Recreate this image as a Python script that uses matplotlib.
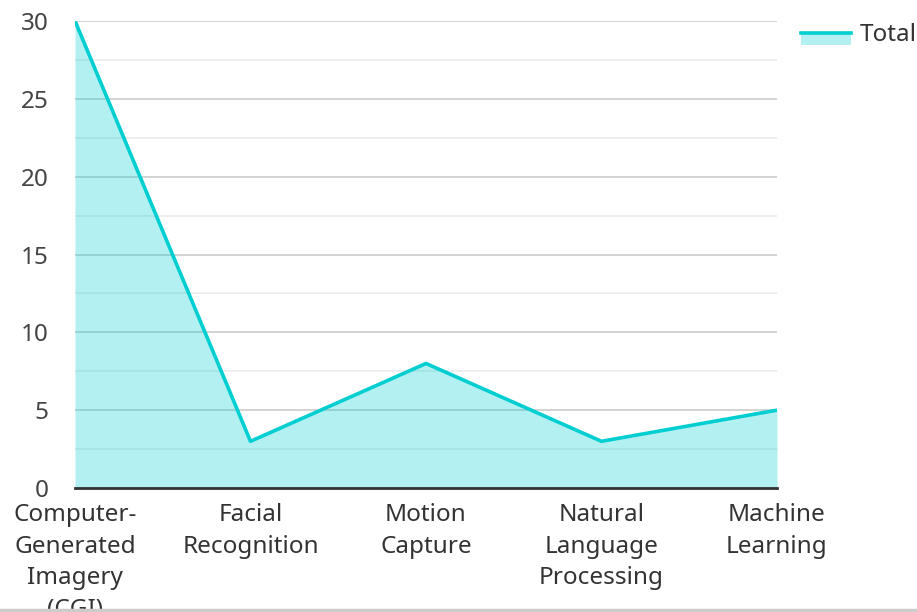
import matplotlib.pyplot as plt
from matplotlib.lines import Line2D
from matplotlib.patches import Rectangle
from matplotlib.legend_handler import HandlerBase

categories = ["Computer-\nGenerated\nImagery\n(CGI)", "Facial\nRecognition", "Motion\nCapture",
              "Natural\nLanguage\nProcessing", "Machine\nLearning"]
totals = [30, 3, 8, 3, 5]
yticks = [0, 5, 10, 15, 20, 25, 30]
minor_ticks = [2.5, 7.5, 12.5, 17.5, 22.5, 27.5]

LINE = "#00CED1"
FS = 17.5
plt.rcParams['font.family'] = ['Noto Sans', 'DejaVu Sans']


class AreaHandler(HandlerBase):
    # line on top, light fill strip under it
    def create_artists(self, legend, orig, xd, yd, width, height, fontsize, trans):
        mid = yd + height * 0.5
        rect = Rectangle((xd, mid - 8.6), width, 8.6,
                         facecolor=LINE, alpha=0.3, edgecolor="none", transform=trans)
        ln = Line2D([xd, xd + width], [mid, mid], color=LINE, lw=2.6, transform=trans)
        return [rect, ln]


fig = plt.figure(figsize=(9.17, 6.12), dpi=100)
ax = fig.add_axes([0.0818, 0.2026, 0.7655, 0.7631])
x = list(range(len(categories)))

ax.set_yticks(yticks)
ax.set_yticks(minor_ticks, minor=True)
ax.grid(True, which="major", axis="y", color="#cccccc", lw=1.2, zorder=0)
ax.grid(True, which="minor", axis="y", color="#ebebeb", lw=1.2, zorder=0)
ax.set_axisbelow(True)

ax.fill_between(x, totals, 0, color=LINE, alpha=0.3, lw=0, zorder=1)
ax.plot(x, totals, color=LINE, lw=2.6, zorder=3, solid_capstyle="butt")

ax.set_xlim(0, len(categories) - 1)
ax.set_ylim(0, 30)
ax.set_xticks(x)
ax.set_xticklabels(categories, linespacing=1.42, fontsize=FS, color="#333333")
for t in ax.get_yticklabels():
    t.set_fontsize(FS)
    t.set_color("#444444")
ax.tick_params(axis="y", which="both", length=0, pad=19)
ax.tick_params(axis="x", length=0, pad=11)

for s in ["top", "right", "left"]:
    ax.spines[s].set_visible(False)
ax.spines["bottom"].set_color("#333333")
ax.spines["bottom"].set_linewidth(2)

ax.legend(handles=[Rectangle((0, 0), 1, 1)], labels=["Total"],
          handler_map={Rectangle: AreaHandler()},
          loc="upper left", bbox_to_anchor=(0.8497, 0.998), bbox_transform=fig.transFigure,
          frameon=False, fontsize=FS, handlelength=2.05, handletextpad=0.37, labelcolor="#333333")

fig.add_artist(Line2D([0, 1], [0.004, 0.004], transform=fig.transFigure, color="#cccccc", lw=2.5))

fig.savefig("out.png", dpi=100)
